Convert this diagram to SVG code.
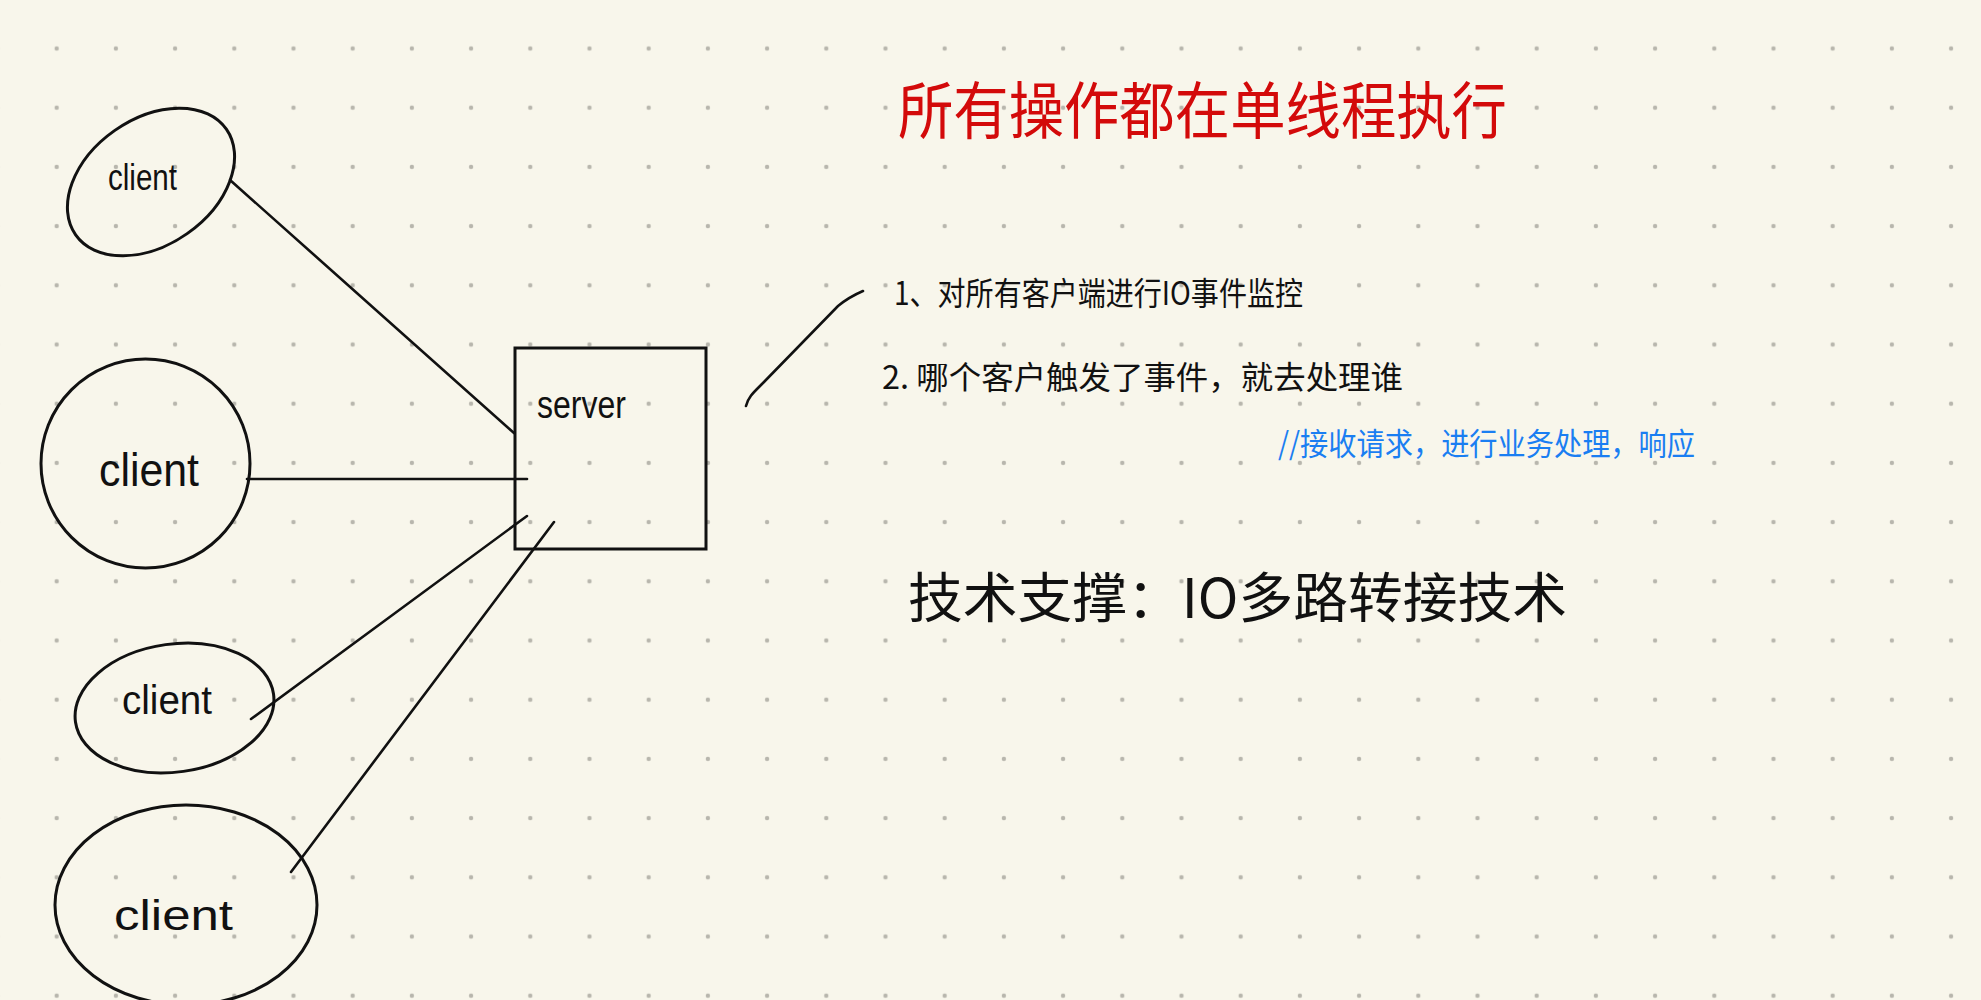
<svg xmlns="http://www.w3.org/2000/svg" width="1981" height="1000" viewBox="0 0 1981 1000">
  <defs>
    <pattern id="dots" patternUnits="userSpaceOnUse" x="27.1" y="18.9" width="59.2" height="59.2">
      <circle cx="29.6" cy="29.6" r="2.2" fill="#b8b6ad"/>
    </pattern>
  </defs>
  <style>
    .shape { fill: none; stroke: #111; stroke-width: 3; }
    .conn { fill: none; stroke: #111; stroke-width: 2.6; stroke-linecap: round; }
    .lbl { font-family: "Liberation Sans", "DejaVu Sans", sans-serif; fill: #111; }
    .zh { font-family: "Noto Sans CJK SC", "Noto Sans", sans-serif; }
  </style>
  <rect width="1981" height="1000" fill="#f8f6eb"/>
  <rect width="1981" height="1000" fill="url(#dots)"/>

  <g id="client1">
    <ellipse class="shape" cx="151" cy="182" rx="92" ry="63" transform="rotate(-35 151 182)"/>
    <text class="lbl" x="108" y="190" font-size="36" textLength="69" lengthAdjust="spacingAndGlyphs">client</text>
  </g>
  <g id="client2">
    <circle class="shape" cx="145.5" cy="463.5" r="104.5"/>
    <text class="lbl" x="99" y="486" font-size="46" textLength="100" lengthAdjust="spacingAndGlyphs">client</text>
  </g>
  <g id="client3">
    <ellipse class="shape" cx="174.5" cy="708" rx="100" ry="64" transform="rotate(-8 174.5 708)"/>
    <text class="lbl" x="122" y="714" font-size="40" textLength="90" lengthAdjust="spacingAndGlyphs">client</text>
  </g>
  <g id="client4">
    <ellipse class="shape" cx="186" cy="905" rx="131" ry="100"/>
    <text class="lbl" x="114" y="930" font-size="42" textLength="119" lengthAdjust="spacingAndGlyphs">client</text>
  </g>
  <g id="server">
    <rect class="shape" x="515" y="348" width="191" height="201"/>
    <text class="lbl" x="537" y="418" font-size="38" textLength="89" lengthAdjust="spacingAndGlyphs">server</text>
  </g>

  <g id="connectors">
    <line class="conn" x1="230" y1="180" x2="514" y2="433"/>
    <line class="conn" x1="247" y1="479" x2="527" y2="479"/>
    <line class="conn" x1="251" y1="719" x2="527" y2="516"/>
    <line class="conn" x1="291" y1="872" x2="554" y2="522"/>
    <path class="conn" stroke-width="2.8" d="M746,406 C748,397 754,392 763,383 L838,306 C849,297 856,294 863,291"/>
  </g>

  <g id="notes">
    <text class="zh" x="898" y="134" font-size="62" fill="#d30a0a" textLength="609" lengthAdjust="spacingAndGlyphs">所有操作都在单线程执行</text>
    <text class="zh" x="894" y="305" font-size="32" fill="#111" textLength="409" lengthAdjust="spacingAndGlyphs">1、对所有客户端进行IO事件监控</text>
    <text class="zh" x="882" y="389" font-size="32" fill="#111" textLength="521" lengthAdjust="spacingAndGlyphs">2. 哪个客户触发了事件，就去处理谁</text>
    <text class="zh" x="1278" y="455" font-size="31" fill="#1a7ef2" textLength="417" lengthAdjust="spacingAndGlyphs">//接收请求，进行业务处理，响应</text>
    <text class="zh" x="908" y="618" font-size="54" fill="#111" textLength="659" lengthAdjust="spacingAndGlyphs">技术支撑：IO多路转接技术</text>
  </g>
</svg>
